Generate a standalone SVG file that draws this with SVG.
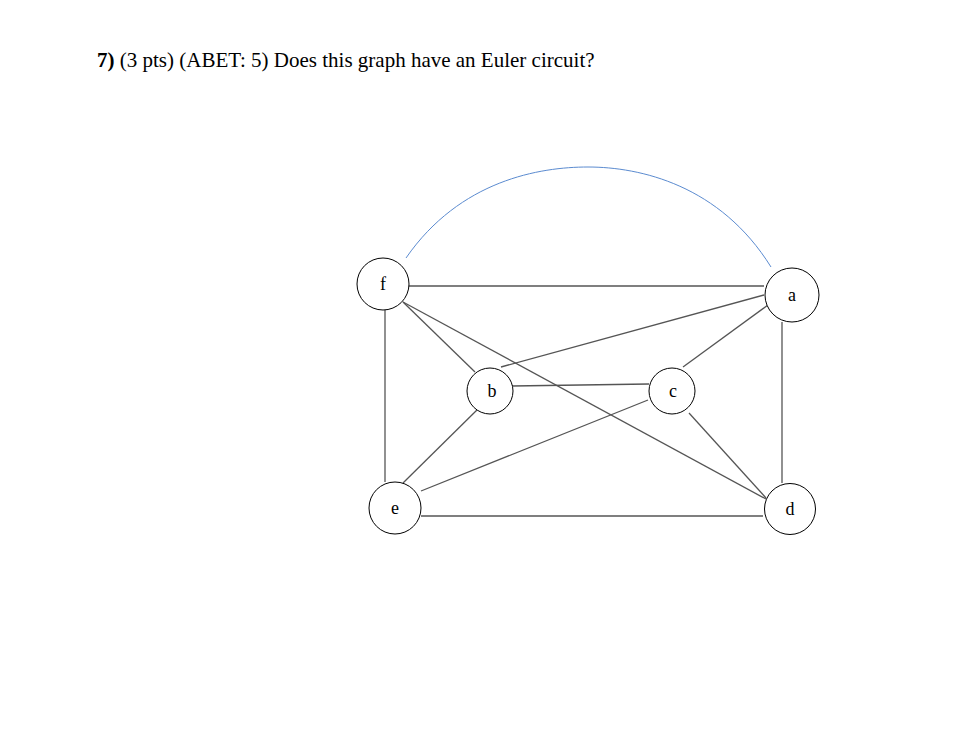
<svg xmlns="http://www.w3.org/2000/svg" width="972" height="756" viewBox="0 0 972 756">
<style>
.title{font-family:"Liberation Serif","Times New Roman",serif;font-size:21px;fill:#000}
.edge{stroke:#555;stroke-width:1.3;fill:none}
.arc{stroke:#5b8bd0;stroke-width:1;fill:none}
.node circle{fill:#fff;stroke:#000;stroke-width:1}
.node text{font-family:"Liberation Serif","Times New Roman",serif;font-size:18px;fill:#000;text-anchor:middle}
</style>
<rect width="972" height="756" fill="#fff"/>
<text class="title" x="97" y="67"><tspan font-weight="bold">7)</tspan> (3 pts) (ABET: 5) Does this graph have an Euler circuit?</text>
<g id="connectors">
<path class="arc" d="M406,258 C460,180 540,167 588,167 C640,167 720,185 771,267"/>
<line class="edge" x1="409" y1="286" x2="764" y2="286"/>
<line class="edge" x1="385" y1="310" x2="385" y2="482"/>
<line class="edge" x1="403" y1="302" x2="475" y2="372"/>
<line class="edge" x1="403" y1="302" x2="766" y2="499"/>
<line class="edge" x1="501" y1="367" x2="764" y2="295"/>
<line class="edge" x1="512" y1="386" x2="649" y2="384"/>
<line class="edge" x1="480" y1="407" x2="403" y2="483"/>
<line class="edge" x1="421" y1="491" x2="648" y2="400"/>
<line class="edge" x1="683" y1="367" x2="768" y2="305"/>
<line class="edge" x1="689" y1="413" x2="766" y2="498"/>
<line class="edge" x1="782" y1="322" x2="782" y2="483"/>
<line class="edge" x1="421" y1="516" x2="763" y2="516"/>
</g>
<g id="node-f" class="node"><circle cx="383" cy="284" r="26"/><text x="383" y="290">f</text></g>
<g id="node-a" class="node"><circle cx="792" cy="295" r="27"/><text x="792" y="301">a</text></g>
<g id="node-b" class="node"><circle cx="490" cy="391" r="23"/><text x="492" y="397">b</text></g>
<g id="node-c" class="node"><circle cx="672" cy="391" r="23"/><text x="673" y="397">c</text></g>
<g id="node-e" class="node"><circle cx="395" cy="508" r="26"/><text x="395" y="514">e</text></g>
<g id="node-d" class="node"><circle cx="790" cy="509" r="25.5"/><text x="790" y="515">d</text></g>
</svg>
